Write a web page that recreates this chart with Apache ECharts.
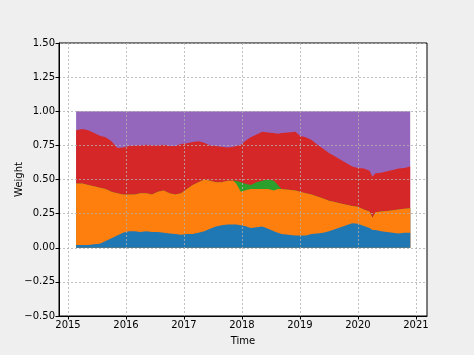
<!DOCTYPE html>
<html><head><meta charset="utf-8">
<script src="https://cdn.jsdelivr.net/npm/echarts@6/dist/echarts.min.js"></script>
<style>html,body{margin:0;padding:0;background:#efefef}#c{width:474px;height:355px}</style>
</head><body><div id="c"></div>
<script>
const times = [2015.14,2015.25,2015.35,2015.45,2015.55,2015.65,2015.75,2015.85,2015.95,2016.05,
2016.15,2016.25,2016.35,2016.45,2016.55,2016.65,2016.75,2016.85,2016.95,2017.05,
2017.15,2017.25,2017.35,2017.45,2017.55,2017.65,2017.75,2017.85,2017.9,2017.98,
2018.05,2018.15,2018.25,2018.35,2018.45,2018.55,2018.62,2018.68,2018.8,2018.92,
2019.0,2019.1,2019.2,2019.3,2019.4,2019.5,2019.6,2019.7,2019.8,2019.9,
2020.0,2020.1,2020.2,2020.25,2020.3,2020.4,2020.5,2020.6,2020.7,2020.8,2020.9];
const blue = [.02,.02,.02,.025,.03,.05,.07,.09,.11,.12,
.12,.115,.12,.115,.115,.11,.105,.10,.095,.10,
.10,.11,.12,.14,.155,.165,.17,.17,.17,.165,
.16,.145,.15,.155,.14,.12,.11,.10,.095,.09,
.09,.09,.10,.105,.11,.12,.135,.15,.165,.18,
.175,.16,.145,.13,.13,.12,.115,.11,.105,.11,.11];
const orange = [.45,.45,.44,.425,.41,.38,.34,.31,.28,.27,
.27,.285,.28,.275,.295,.31,.295,.29,.305,.33,
.36,.37,.38,.35,.325,.315,.32,.32,.30,.245,
.26,.285,.28,.275,.29,.30,.32,.33,.33,.33,
.32,.31,.29,.27,.25,.225,.20,.175,.15,.125,
.125,.12,.12,.09,.13,.145,.155,.165,.175,.175,.18];
const green = [0,0,0,0,0,0,0,0,0,0,
0,0,0,0,0,0,0,0,0,0,
0,0,0,0,0,0,0,0,.02,.07,
.05,.03,.05,.06,.07,.07,.03,0,0,0,
0,0,0,0,0,0,0,0,0,0,
0,0,0,0,0,0,0,0,0,0,0];
const red = [.39,.40,.40,.39,.38,.38,.37,.33,.345,.355,
.36,.35,.355,.36,.34,.335,.345,.355,.36,.335,
.315,.30,.27,.26,.265,.26,.245,.25,.255,.275,
.31,.35,.35,.36,.345,.35,.375,.41,.42,.43,
.41,.41,.40,.38,.365,.35,.335,.32,.305,.29,
.285,.30,.30,.30,.285,.285,.29,.295,.30,.30,.305];
const purple = [.14,.13,.14,.16,.18,.19,.22,.27,.265,.255,
.25,.25,.245,.25,.25,.245,.255,.255,.24,.235,
.225,.22,.23,.25,.255,.26,.265,.26,.255,.245,
.22,.19,.17,.15,.155,.16,.165,.16,.155,.15,
.18,.19,.21,.245,.275,.305,.33,.355,.38,.405,
.415,.42,.435,.48,.455,.45,.44,.43,.42,.415,.405];
const yearTicks = [2015,2016,2017,2018,2019,2020,2021];
const seriesNames = ['blue','orange','green','red','purple'];
const seriesData = [blue, orange, green, red, purple];
const colors = ['#1f77b4','#ff7f0e','#2ca02c','#d62728','#9467bd'];

// cumulative tops (stackplot); drawn top layer first so lower layers paint over it
const cumulative = [];
seriesData.forEach((arr,i)=>{
  cumulative.push(arr.map((v,j)=> v + (i>0 ? cumulative[i-1][j] : 0)));
});
const order = [4,3,2,1,0];

const chart = echarts.init(document.getElementById('c'), null, {renderer:'canvas'});
const font = 'DejaVu Sans';
const gridLine = {show:true, lineStyle:{color:'#b0b0b0', width:0.8, type:[2,2]}};
chart.setOption({
  backgroundColor:'#efefef',
  animation:false,
  grid:{left:59, right:47, top:43, bottom:39, containLabel:false, outerBoundsMode:'none',
        show:true, backgroundColor:'#ffffff', borderColor:'#000', borderWidth:1},
  xAxis:{
    type:'value', min:2014.845, max:2021.19, z:3,
    name:'Time', nameLocation:'middle', nameGap:20,
    nameTextStyle:{fontFamily:font, fontSize:10, color:'#000'},
    axisLine:{show:true, onZero:false, lineStyle:{color:'#000', width:1}},
    axisTick:{show:true, length:3.5, customValues:yearTicks, lineStyle:{color:'#000'}},
    axisLabel:{customValues:yearTicks, fontFamily:font, fontSize:10, color:'#000', margin:4, formatter:v=>String(v)},
    splitLine:gridLine
  },
  yAxis:{
    type:'value', min:-0.5, max:1.5, interval:0.25, z:3,
    name:'Weight', nameLocation:'middle', nameGap:35, nameRotate:90, nameMoveOverlap:false,
    nameTextStyle:{fontFamily:font, fontSize:10, color:'#000'},
    axisLine:{show:true, onZero:false, lineStyle:{color:'#000', width:1}},
    axisTick:{show:true, length:3.5, lineStyle:{color:'#000'}},
    axisLabel:{fontFamily:font, fontSize:10, color:'#000', margin:4,
      formatter:v=>(v<0?'\u2212':'')+Math.abs(v).toFixed(2)},
    splitLine:gridLine
  },
  series: order.map(i=>({
    name:seriesNames[i], type:'line', symbol:'none', z:2,
    lineStyle:{width:0}, areaStyle:{color:colors[i], opacity:1, origin:0},
    itemStyle:{color:colors[i]},
    data: times.map((t,j)=>[t, +cumulative[i][j].toFixed(4)])
  }))
});
</script></body></html>
